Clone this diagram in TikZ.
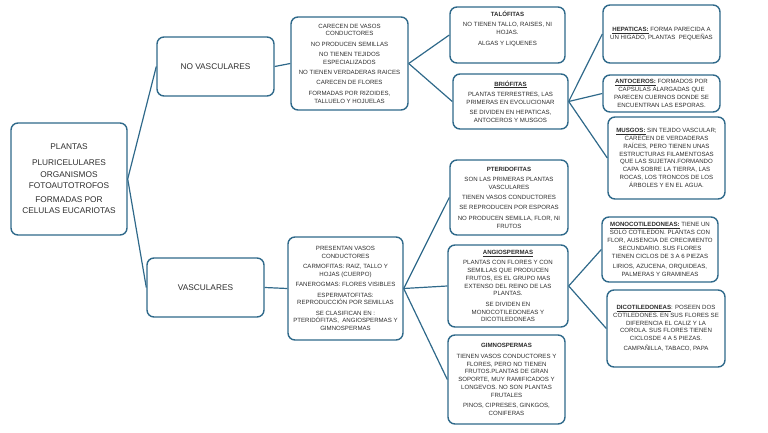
\documentclass[tikz,border=0pt]{standalone}
\usepackage{fontspec}
\setmainfont{Liberation Sans}
\definecolor{bd}{RGB}{47,105,138}
\definecolor{tx}{RGB}{45,45,45}
\begin{document}
\begin{tikzpicture}[x=1pt,y=-1pt,
  box/.style={draw=bd, line width=1.4pt, rounded corners=7pt, fill=white, inner sep=0pt, text=tx, align=center},
  sm/.style={font=\fontsize{6.1}{7.8}\selectfont},
  big/.style={font=\fontsize{8.3}{11}\selectfont},
  conn/.style={draw=bd, line width=1.2pt}]
\useasboundingbox (0,0) rectangle (768,433);

\node[box,big,minimum width=116pt,minimum height=112pt] (root) at (69,179)
  {PLANTAS\\[5pt]PLURICELULARES\\[1pt]ORGANISMOS\\FOTOAUTOTROFOS\\[3pt]FORMADAS POR\\CELULAS EUCARIOTAS};

\node[box,big,minimum width=117pt,minimum height=59pt] (nv) at (215.5,66.5) {NO VASCULARES};
\node[box,big,minimum width=117pt,minimum height=59pt] (va) at (205.5,287.5) {VASCULARES};

\node[box,sm,minimum width=117pt,minimum height=93pt] (nvl) at (349.5,63.5)
  {CARECEN DE VASOS\\CONDUCTORES\\[2.5pt]NO PRODUCEN SEMILLAS\\[2.5pt]NO TIENEN TEJIDOS\\ESPECIALIZADOS\\[2.5pt]NO TIENEN VERDADERAS RAICES\\[2.5pt]CARECEN DE FLORES\\[2.5pt]FORMADAS POR RIZOIDES,\\TALLUELO Y HOJUELAS};

\node[box,sm,minimum width=115pt,minimum height=103pt] (val) at (345.5,288.5)
  {PRESENTAN VASOS\\CONDUCTORES\\[2.5pt]CARMOFITAS: RAIZ, TALLO Y\\HOJAS (CUERPO)\\[2.5pt]FANEROGMAS: FLORES VISIBLES\\[2.5pt]ESPERMATOFITAS:\\REPRODUCCIÓN POR SEMILLAS\\[2.5pt]SE CLASIFICAN EN :\\PTERIDÓFITAS,\ \ ANGIOSPERMAS Y\\GIMNOSPERMAS};

\node[box,sm,minimum width=115pt,minimum height=56pt] (tal) at (507.5,35)
  {\textbf{TALÓFITAS}\\[2.5pt]NO TIENEN TALLO, RAISES, NI\\HOJAS.\\[2.5pt]ALGAS Y LIQUENES\\[6pt]};

\node[box,sm,minimum width=115pt,minimum height=55pt] (bri) at (510.5,101.5)
  {\underline{\textbf{BRIÓFITAS}}\\[2.5pt]PLANTAS TERRESTRES, LAS\\PRIMERAS EN EVOLUCIONAR\\[2.5pt]SE DIVIDEN EN HEPATICAS,\\ANTOCEROS Y MUSGOS};

\node[box,sm,minimum width=117pt,minimum height=58pt] (hep) at (661.5,34)
  {\underline{\textbf{HEPATICAS:}} FORMA PARECIDA A\\UN HIGADO, PLANTAS\ \ PEQUEÑAS};

\node[box,sm,minimum width=117pt,minimum height=37pt] (ant) at (661.5,93.5)
  {\underline{\textbf{ANTOCEROS:}} FORMADOS POR\\CAPSULAS ALARGADAS QUE\\PARECEN CUERNOS DONDE SE\\ENCUENTRAN LAS ESPORAS.};

\node[box,sm,minimum width=117pt,minimum height=82pt] (mus) at (666.5,158)
  {\underline{\textbf{MUSGOS:}} SIN TEJIDO VASCULAR;\\CARECEN DE VERDADERAS\\RAÍCES, PERO TIENEN UNAS\\ESTRUCTURAS FILAMENTOSAS\\QUE LAS SUJETAN.FORMANDO\\CAPA SOBRE LA TIERRA, LAS\\ROCAS, LOS TRONCOS DE LOS\\ÁRBOLES Y EN EL AGUA.};

\node[box,sm,minimum width=118pt,minimum height=75pt] (pte) at (509,197.5)
  {\textbf{PTERIDOFITAS}\\[2.5pt]SON LAS PRIMERAS PLANTAS\\VASCULARES\\[2.5pt]TIENEN VASOS CONDUCTORES\\[2.5pt]SE REPRODUCEN POR ESPORAS\\[2.5pt]NO PRODUCEN SEMILLA, FLOR, NI\\FRUTOS};

\node[box,sm,minimum width=120pt,minimum height=82pt] (ang) at (508,286)
  {\underline{\textbf{ANGIOSPERMAS}}\\[2.5pt]PLANTAS CON FLORES Y CON\\SEMILLAS QUE PRODUCEN\\FRUTOS, ES EL GRUPO MAS\\EXTENSO DEL REINO DE LAS\\PLANTAS.\\[2.5pt]SE DIVIDEN EN\\MONOCOTILEDONEAS Y\\DICOTILEDONEAS};

\node[box,sm,minimum width=117pt,minimum height=89pt] (gim) at (506.5,379.5)
  {\textbf{GIMNOSPERMAS}\\[2.5pt]TIENEN VASOS CONDUCTORES Y\\FLORES, PERO NO TIENEN\\FRUTOS.PLANTAS DE GRAN\\SOPORTE, MUY RAMIFICADOS Y\\LONGEVOS. NO SON PLANTAS\\FRUTALES\\[2.5pt]PINOS, CIPRESES, GINKGOS,\\CONIFERAS};

\node[box,sm,minimum width=116pt,minimum height=65pt] (mon) at (660,249.5)
  {\underline{\textbf{MONOCOTILEDONEAS:}} TIENE UN\\SOLO COTILEDON. PLANTAS CON\\FLOR, AUSENCIA DE CRECIMIENTO\\SECUNDARIO. SUS FLORES\\TIENEN CICLOS DE 3 A 6 PIEZAS\\[2.5pt]LIRIOS, AZUCENA, ORQUIDEAS,\\PALMERAS Y GRAMINEAS};

\node[box,sm,minimum width=118pt,minimum height=77pt] (dic) at (666,328.5)
  {\underline{\textbf{DICOTILEDONEAS}}: POSEEN DOS\\COTILEDONES. EN SUS FLORES SE\\DIFERENCIA EL CALIZ Y LA\\COROLA. SUS FLORES TIENEN\\CICLOSDE 4 A 5 PIEZAS.\\[2.5pt]CAMPAÑILLA, TABACO, PAPA};

\draw[conn] (root.east) -- (nv.west);
\draw[conn] (root.east) -- (va.west);
\draw[conn] (nv.east) -- (nvl.west);
\draw[conn] (va.east) -- (val.west);
\draw[conn] (nvl.east) -- (tal.west);
\draw[conn] (nvl.east) -- (bri.west);
\draw[conn] (bri.east) -- (hep.west);
\draw[conn] (bri.east) -- (ant.west);
\draw[conn] (bri.east) -- (mus.west);
\draw[conn] (val.east) -- (pte.west);
\draw[conn] (val.east) -- (ang.west);
\draw[conn] (val.east) -- (gim.west);
\draw[conn] (ang.east) -- (mon.west);
\draw[conn] (ang.east) -- (dic.west);
\end{tikzpicture}
\end{document}
